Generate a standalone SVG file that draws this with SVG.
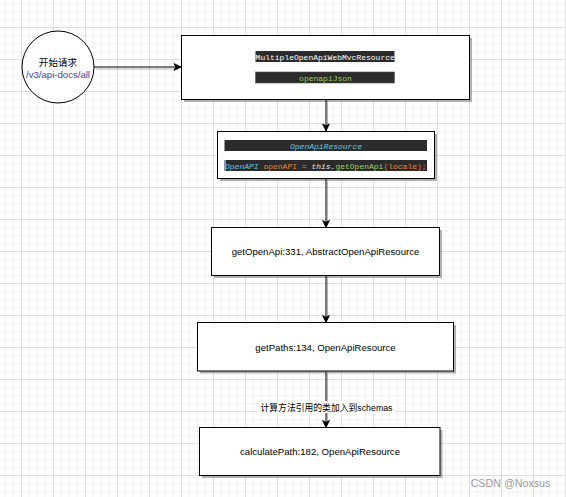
<svg xmlns="http://www.w3.org/2000/svg" width="566" height="497" viewBox="0 0 566 497">
<style>
.box{fill:#fff;stroke:#000;stroke-width:1}
.shadow{fill:#000;opacity:0.3}
.lbl{font-family:"Liberation Sans",Arial,"Noto Sans CJK SC",sans-serif;font-size:9.6px;fill:#000;text-anchor:middle}
.code{font-family:"Liberation Mono","DejaVu Sans Mono",monospace;font-size:8px}
.bar{fill:#2b2b2b}
.edge{fill:none;stroke:#000;stroke-width:1}
.eshadow{fill:none;stroke:#000;stroke-width:1;opacity:0.3}
</style>
<defs>
<pattern id="minor" patternUnits="userSpaceOnUse" x="5" y="3" width="8" height="8">
<path d="M0.5 0V8M0 0.5H8" stroke="#f4f4f4" stroke-width="1" fill="none"/>
</pattern>
<pattern id="major" patternUnits="userSpaceOnUse" x="21" y="27" width="32" height="32">
<path d="M0.5 0V32M0 0.5H32" stroke="#e0e0e0" stroke-width="1" fill="none"/>
</pattern>
<marker id="arr" markerUnits="userSpaceOnUse" markerWidth="10" markerHeight="10" viewBox="0 0 10 10" refX="8" refY="5" orient="auto">
<path d="M1,1.6 L8,5 L1,8.4 L2.8,5 Z" fill="#000" stroke="#000" stroke-width="0.8"/>
</marker>
</defs>
<rect width="566" height="497" fill="#fff"/>
<rect width="566" height="497" fill="url(#minor)"/>
<rect width="566" height="497" fill="url(#major)"/>

<g id="connectors">
<line class="eshadow" x1="96" y1="69" x2="178" y2="69"/>
<line class="edge" x1="94" y1="67" x2="181" y2="67" marker-end="url(#arr)"/>
<line class="eshadow" x1="327.5" y1="101" x2="327.5" y2="128"/>
<line class="edge" x1="326" y1="99.5" x2="326" y2="131" marker-end="url(#arr)"/>
<line class="eshadow" x1="327.5" y1="181" x2="327.5" y2="225"/>
<line class="edge" x1="326" y1="179" x2="326" y2="227.5" marker-end="url(#arr)"/>
<line class="eshadow" x1="327.5" y1="277" x2="327.5" y2="320"/>
<line class="edge" x1="326" y1="275.5" x2="326" y2="322.5" marker-end="url(#arr)"/>
<line class="eshadow" x1="327.5" y1="373" x2="327.5" y2="425"/>
<line class="edge" x1="326" y1="371.5" x2="326" y2="427.5" marker-end="url(#arr)"/>
<rect x="259" y="401" width="135" height="12" fill="#fff"/>
<text class="lbl" x="326.5" y="410.5" textLength="132" lengthAdjust="spacingAndGlyphs">计算方法引用的类加入到schemas</text>
</g>

<g id="start">
<circle cx="58" cy="67" r="36" fill="#fff" stroke="#000" stroke-width="1"/>
<text class="lbl" x="58" y="65.5">开始请求</text>
<text class="lbl" x="58" y="77.7" style="fill:#3d3db0">/v3/api-docs/all</text>
</g>

<g id="multipleOpenApiWebMvcResource">
<rect class="shadow" x="184" y="38" width="288" height="64"/>
<rect class="box" x="181.5" y="35.5" width="288" height="64"/>
<rect class="bar" x="255.5" y="51" width="139" height="11"/>
<text class="code" x="255.6" y="59.6" fill="#ffffff">MultipleOpenApiWebMvcResource</text>
<rect class="bar" x="255.5" y="72" width="139" height="11" stroke="#555" stroke-width="0.6"/>
<text class="code" x="325.5" y="80.6" fill="#9fcf5f" text-anchor="middle">openapiJson</text>
</g>

<g id="openApiResource">
<rect class="shadow" x="220" y="134" width="217" height="47"/>
<rect class="box" x="217.5" y="131.5" width="217" height="47"/>
<rect class="bar" x="224.5" y="140" width="202.5" height="11"/>
<text class="code" x="326" y="148.6" fill="#6cc3e6" font-style="italic" text-anchor="middle">OpenApiResource</text>
<rect class="bar" x="224.5" y="160" width="202.5" height="11"/>
<rect x="224.5" y="160" width="1.5" height="11" fill="#6a9ed6"/>
<text class="code" x="225" y="168.6" fill="#5ec6ea" font-style="italic">OpenAPI</text>
<text class="code" x="263.4" y="168.6" fill="#e8823a">openAPI =</text>
<text class="code" x="311.4" y="168.6" fill="#e6e6e6" font-style="italic">this.</text>
<text class="code" x="335.4" y="168.6" fill="#9fcf5f">getOpenApi</text>
<text class="code" x="383.4" y="168.6" fill="#e8823a">(locale);</text>
</g>

<g id="getOpenApi">
<rect class="shadow" x="214" y="230" width="228" height="48"/>
<rect class="box" x="211.5" y="227.5" width="228" height="48"/>
<text class="lbl" x="325.5" y="254.6">getOpenApi:331, AbstractOpenApiResource</text>
</g>

<g id="getPaths">
<rect class="shadow" x="200" y="325" width="256" height="48.5"/>
<rect class="box" x="197.5" y="322.5" width="256" height="48.5"/>
<text class="lbl" x="325.5" y="350.6">getPaths:134, OpenApiResource</text>
</g>

<g id="calculatePath">
<rect class="shadow" x="202" y="430" width="240.5" height="48"/>
<rect class="box" x="199.5" y="427.5" width="240.5" height="48"/>
<text class="lbl" x="320" y="454.8">calculatePath:182, OpenApiResource</text>
</g>

<text x="510.5" y="487" font-family="'Liberation Sans',Arial,sans-serif" font-size="10.7px" fill="#9a9a9a" text-anchor="middle">CSDN @Noxsus</text>
</svg>
